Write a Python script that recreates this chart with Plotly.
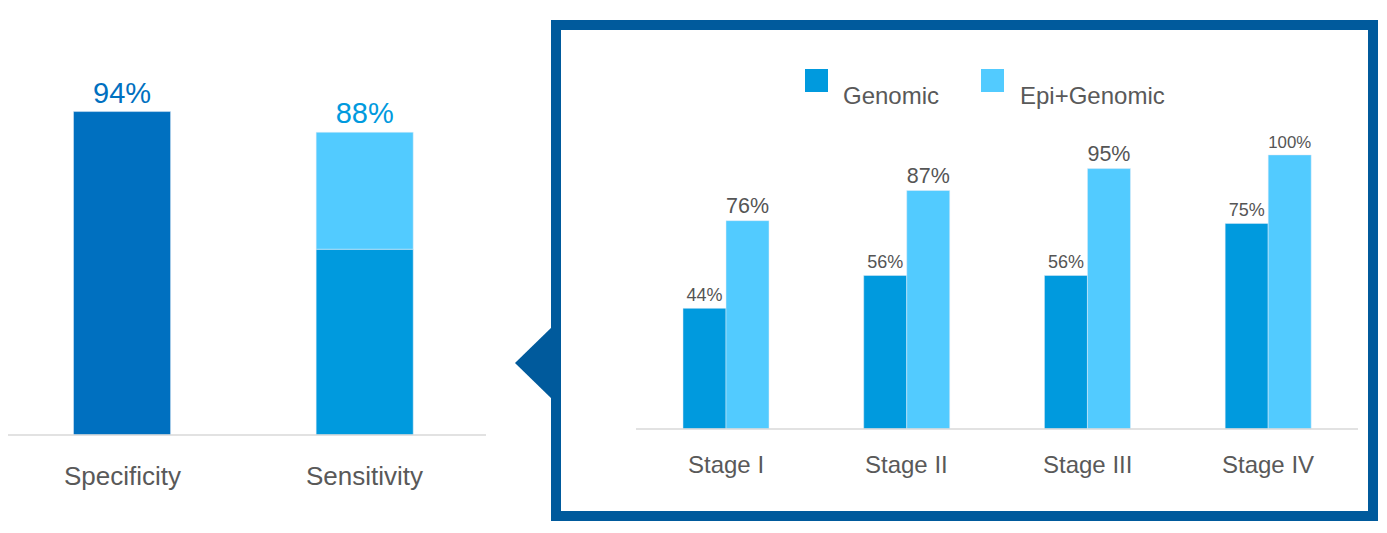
import plotly.graph_objects as go

W, H = 1387, 533
left_cats = ["Specificity", "Sensitivity"]
spec_val = [94]
sens_genomic = [54]
sens_total = [88]
stages = ["Stage I", "Stage II", "Stage III", "Stage IV"]
genomic = [44, 56, 56, 75]
epi = [76, 87, 95, 100]

C_DARK, C_MID, C_LIGHT, C_BOX = "#0070c0", "#009ade", "#52cbff", "#005a9c"
FONT = "Liberation Sans"
px = lambda x: x / W
py = lambda y: 1 - y / H

fig = go.Figure()
# left chart
fig.add_bar(x=[0], y=spec_val, marker_color=C_DARK, width=0.4, xaxis="x", yaxis="y",
            text=[f"{v}%" for v in spec_val], textposition="outside",
            textfont=dict(size=29, color=C_DARK, family=FONT), cliponaxis=False)
fig.add_bar(x=[1], y=sens_genomic, marker_color=C_MID, width=0.4, xaxis="x", yaxis="y")
fig.add_bar(x=[1], y=[sens_total[0] - sens_genomic[0]], base=sens_genomic, marker_color=C_LIGHT,
            width=0.4, xaxis="x", yaxis="y",
            text=[f"{v}%" for v in sens_total], textposition="outside",
            textfont=dict(size=29, color=C_MID, family=FONT), cliponaxis=False)
# right chart
xs = list(range(len(stages)))
fig.add_bar(x=xs, y=genomic, marker_color=C_MID, xaxis="x2", yaxis="y2", name="Genomic",
            text=[f"{v}%" for v in genomic], textposition="outside",
            textfont=dict(size=18, color="#555555", family=FONT), cliponaxis=False)
fig.add_bar(x=xs, y=epi, marker_color=C_LIGHT, xaxis="x2", yaxis="y2", name="Epi+Genomic",
            text=[f"{v}%" for v in epi], textposition="outside",
            textfont=dict(size=22, color="#555555", family=FONT), cliponaxis=False)

ann = []
for i, c in enumerate(left_cats):
    ann.append(dict(x=i, y=-12, xref="x", yref="y", text=c, showarrow=False,
                    font=dict(size=26, color="#595959", family=FONT)))
for i, s in enumerate(stages):
    ann.append(dict(x=i, y=-13.1, xref="x2", yref="y2", text=s, showarrow=False,
                    font=dict(size=24, color="#595959", family=FONT)))
ann.append(dict(x=px(833), y=py(72), xref="paper", yref="paper", text="Genomic", xanchor="left",
                showarrow=False, font=dict(size=24, color="#595959", family=FONT)))
ann.append(dict(x=px(1010), y=py(72), xref="paper", yref="paper", text="Epi+Genomic", xanchor="left",
                showarrow=False, font=dict(size=24, color="#595959", family=FONT)))

shapes = [
    dict(type="line", xref="paper", yref="y", x0=0, x1=px(478), y0=0, y1=0,
         line=dict(color="#d9d9d9", width=1.5)),
    dict(type="line", xref="paper", yref="y2", x0=px(628), x1=px(1350), y0=0, y1=0,
         line=dict(color="#d9d9d9", width=1.5)),
    dict(type="rect", xref="paper", yref="paper", x0=px(548), x1=px(1365), y0=py(508), y1=py(17),
         line=dict(color=C_BOX, width=10)),
    dict(type="path", xref="paper", yref="paper",
         path=f"M {px(507)} {py(355)} L {px(545)} {py(318)} L {px(545)} {py(392)} Z",
         fillcolor=C_BOX, line=dict(width=0)),
    dict(type="rect", xref="paper", yref="paper", x0=px(797), x1=px(820), y0=py(84), y1=py(61),
         fillcolor=C_MID, line=dict(width=0)),
    dict(type="rect", xref="paper", yref="paper", x0=px(973), x1=px(996), y0=py(84), y1=py(61),
         fillcolor=C_LIGHT, line=dict(width=0)),
]

fig.update_layout(
    width=W, height=H, margin=dict(l=0, r=0, t=0, b=0), showlegend=False,
    plot_bgcolor="white", paper_bgcolor="white", barmode="overlay",
    xaxis=dict(domain=[0, px(478)], range=[-0.47, 1.5], visible=False),
    yaxis=dict(domain=[0, 1], range=[-30.8, 124.1], visible=False),
    xaxis2=dict(domain=[px(628), px(1350)], range=[-0.498, 3.497], visible=False),
    yaxis2=dict(domain=[0, 1], range=[-40.9, 153.6], visible=False, anchor="x2"),
    annotations=ann, shapes=shapes,
)
# grouped bars on right via offsets
fig.data[3].update(width=0.238, offset=-0.238)
fig.data[4].update(width=0.238, offset=0)
fig.write_html("out.html")
